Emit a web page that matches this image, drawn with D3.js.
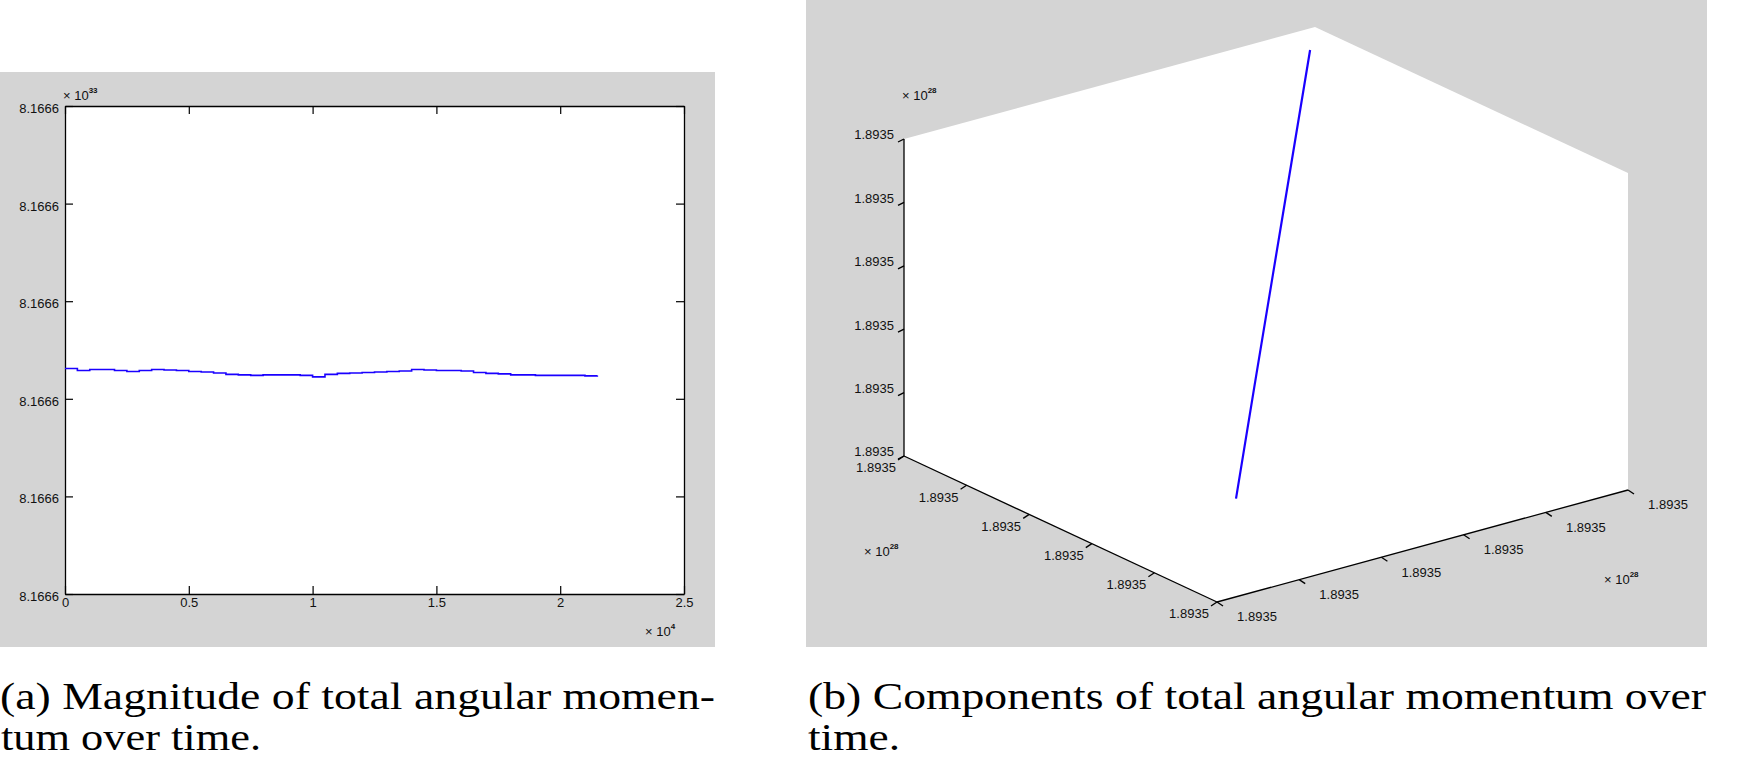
<!DOCTYPE html>
<html><head><meta charset="utf-8">
<script src="https://cdn.jsdelivr.net/npm/d3@7"></script>
<style>body{margin:0;background:#fff}svg{display:block}</style>
</head><body>
<svg id="c" width="1740" height="767"></svg>
<script>
// ---- data ----
const xTicksA = [0, 0.5, 1, 1.5, 2, 2.5];
const xTickLabelsA = ["0", "0.5", "1", "1.5", "2", "2.5"];
const yTicksA = [0, 1, 2, 3, 4, 5];
const yTickLabelsA = ["8.1666", "8.1666", "8.1666", "8.1666", "8.1666", "8.1666"];
const timeA = [0,0.05,0.1,0.15,0.2,0.25,0.3,0.35,0.4,0.45,0.5,0.55,0.6,0.65,0.7,0.75,0.8,0.85,0.9,0.95,1.0,1.05,1.1,1.15,1.2,1.25,1.3,1.35,1.4,1.45,1.5,1.55,1.6,1.65,1.7,1.75,1.8,1.85,1.9,1.95,2.0,2.05,2.1,2.15];
const magA = [2.31,2.29,2.30,2.30,2.29,2.28,2.29,2.30,2.295,2.29,2.28,2.275,2.265,2.25,2.245,2.24,2.245,2.245,2.245,2.24,2.225,2.25,2.26,2.265,2.27,2.275,2.28,2.285,2.30,2.295,2.29,2.29,2.285,2.27,2.26,2.255,2.245,2.245,2.24,2.24,2.24,2.24,2.235,2.24];
const axTicks3 = [0, 1, 2, 3, 4, 5];
const axTickLabels3 = ["1.8935","1.8935","1.8935","1.8935","1.8935","1.8935"];
const compX = [0.97, 1.9, 2.85, 3.8, 4.75];
const compY = [0.97, 1.9, 2.85, 3.8, 4.75];
const compZ = [0.84, 1.84, 2.84, 3.84, 4.84];
const captionA = ["(a) Magnitude of total angular momen-", "tum over time."];
const captionB = ["(b) Components of total angular momentum over", "time."];

const svg = d3.select("#c");
const grey = "#d4d4d4", blue = "#1a00ff";
const tf = "Liberation Sans, Arial, sans-serif";
const fs = 13;

// ---- panel (a) ----
svg.append("rect").attr("x",0).attr("y",72).attr("width",715).attr("height",575).attr("fill",grey);
const L=65,R=684,T=106,B=594;
svg.append("rect").attr("x",L).attr("y",T).attr("width",R-L).attr("height",B-T).attr("fill","#fff");
const xa = d3.scaleLinear().domain([0,2.5]).range([L,R]);
const ya = d3.scaleLinear().domain([0,5]).range([B,T]);
const gA = svg.append("g");
gA.append("g").attr("transform",`translate(0,${B})`)
  .call(d3.axisBottom(xa).tickValues(xTicksA).tickFormat((d,i)=>xTickLabelsA[i]).tickSizeInner(-8).tickSizeOuter(0).tickPadding(4));
gA.append("g").attr("transform",`translate(0,${T})`)
  .call(d3.axisTop(xa).tickValues(xTicksA).tickFormat("").tickSizeInner(-8).tickSizeOuter(0));
const yl = gA.append("g").attr("transform",`translate(${L},0)`)
  .call(d3.axisLeft(ya).tickValues(yTicksA).tickFormat((d,i)=>yTickLabelsA[i]).tickSizeInner(-8).tickSizeOuter(0).tickPadding(6));
gA.append("g").attr("transform",`translate(${R},0)`)
  .call(d3.axisRight(ya).tickValues(yTicksA).tickFormat("").tickSizeInner(-8).tickSizeOuter(0));
gA.selectAll(".domain").attr("stroke","#000").attr("stroke-width",1.3);
gA.selectAll(".tick line").attr("stroke","#000").attr("stroke-width",1.2);
gA.selectAll("text").attr("font-family",tf).attr("font-size",fs).attr("fill","#111");
yl.selectAll(".tick text").attr("dy","0.5em");
svg.append("path").datum(timeA.map((t,i)=>[t,magA[i]]))
  .attr("d",d3.line().x(d=>xa(d[0])).y(d=>ya(d[1])).curve(d3.curveStepAfter))
  .attr("fill","none").attr("stroke",blue).attr("stroke-width",1.6);
function expo(x,y,e){
  const t=svg.append("text").attr("x",x).attr("y",y).attr("font-family",tf).attr("font-size",fs).attr("fill","#111");
  t.append("tspan").text("\u00d7 10");
  t.append("tspan").attr("dy",-7).attr("font-size",8).attr("font-weight","bold").text(e);
}
expo(63,100,"33");
expo(645,636,"4");

// ---- panel (b) ----
svg.append("rect").attr("x",806).attr("y",0).attr("width",901).attr("height",647).attr("fill",grey);
const O=[1217,602], VX=[-313,-146], VY=[411,-112], VZ=[0,-317];
const s3 = d3.scaleLinear().domain([0,5]).range([0,1]);
const P=(x,y,z)=>[O[0]+s3(x)*VX[0]+s3(y)*VY[0]+s3(z)*VZ[0], O[1]+s3(x)*VX[1]+s3(y)*VY[1]+s3(z)*VZ[1]];
const poly=[P(5,0,0),P(5,0,5),P(5,5,5),P(0,5,5),P(0,5,0),P(0,0,0)];
svg.append("polygon").attr("points",poly.map(p=>p.join(",")).join(" ")).attr("fill","#fff");
const edge=(a,b)=>svg.append("line").attr("x1",a[0]).attr("y1",a[1]).attr("x2",b[0]).attr("y2",b[1]).attr("stroke","#000").attr("stroke-width",1.3);
edge(P(5,0,0),P(5,0,5)); edge(P(5,0,0),P(0,0,0)); edge(P(0,0,0),P(0,5,0));
const lab=(p,t,anchor)=>svg.append("text").attr("x",p[0]).attr("y",p[1]).attr("text-anchor",anchor).attr("dominant-baseline","middle")
  .attr("font-family",tf).attr("font-size",fs).attr("fill","#111").text(t);
axTicks3.forEach((v,i)=>{
  const pz=P(5,0,v); edge(pz,[pz[0]-6,pz[1]+3]); lab([pz[0]-10,pz[1]-3],axTickLabels3[i],"end");
  const px=P(v,0,0); edge(px,[px[0]-6,px[1]+4]); lab([px[0]-28,px[1]+13],axTickLabels3[i],"middle");
  const py=P(0,v,0); edge(py,[py[0]+6,py[1]+4]); lab([py[0]+40,py[1]+16],axTickLabels3[i],"middle");
});
expo(902,100,"28");
expo(864,556,"28");
expo(1604,584,"28");
svg.append("path").datum(compX.map((x,i)=>P(x,compY[i],compZ[i])))
  .attr("d",d3.line()).attr("fill","none").attr("stroke",blue).attr("stroke-width",2.2);

// ---- captions ----
const cap=(x,y,t,len)=>svg.append("text").attr("x",x).attr("y",y).attr("font-family","Liberation Serif, DejaVu Serif, serif")
  .attr("font-size",38).attr("fill","#000").attr("textLength",len).attr("lengthAdjust","spacingAndGlyphs").text(t);
cap(0,709,captionA[0],715);
cap(1,750,captionA[1],260);
cap(808,709,captionB[0],898);
cap(808,750,captionB[1],92);
</script>
</body></html>
